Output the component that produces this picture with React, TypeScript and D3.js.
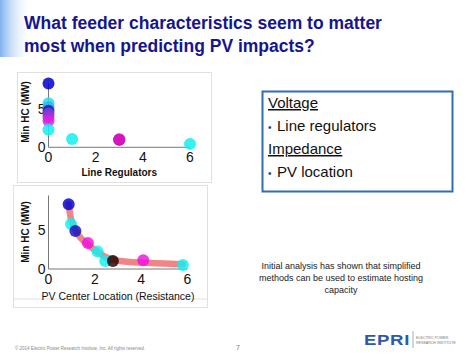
import React from "react";
import * as d3 from "d3";

// Top chart: Min HC vs Line Regulators
const regX = [0, 0, 0, 0, 0, 0, 0, 0, 1, 3, 3, 6];
const regY = [8.4, 5.8, 5.3, 4.8, 4.4, 4.0, 3.5, 2.3, 1.1, 1.0, 1.05, 0.45];
const regColor = ["#0000d0", "#20e0f0", "#40b0e0", "#1020c8", "#8040d0", "#a030d8", "#e020e0", "#10f0f0", "#10f0f0", "#300000", "#f010e0", "#10f0f0"];

// Bottom chart: Min HC vs PV Center Location (Resistance)
const pvX = [0.87, 0.97, 1.16, 1.7, 2.12, 2.45, 2.78, 4.09, 5.8];
const pvY = [8.2, 5.7, 4.8, 3.3, 2.2, 1.0, 1.0, 1.1, 0.5];
const pvColor = ["#0000d0", "#10f0f0", "#1010c0", "#f010e0", "#10f0f0", "#10f0f0", "#200000", "#f010e0", "#10f0f0"];

// Fitted curve
const fitX = [0.87, 0.95, 1.05, 1.2, 1.4, 1.7, 2.0, 2.3, 2.6, 3.0, 3.5, 4.0, 5.0, 5.8];
const fitY = [8.2, 6.6, 5.6, 4.7, 3.9, 3.1, 2.4, 1.8, 1.35, 1.05, 0.9, 0.82, 0.7, 0.6];

const xTicks = [0, 2, 4, 6];
const yTicks = [0, 5];

const titleLines = ["What feeder characteristics seem to matter", "most when predicting PV impacts?"];
const noteLines = ["Initial analysis has shown that simplified", "methods can be used to estimate hosting", "capacity"];

const FONT = "'Liberation Sans', Arial, sans-serif";

function Axes({ x, y, yTop, xLabel, xLabelY, xLabelBold }: any) {
  return (
    <g>
      <line x1={x(0)} x2={x(6)} y1={y(0)} y2={y(0)} stroke="#777" strokeWidth={1} />
      <line x1={x(0)} x2={x(0)} y1={y(0)} y2={y(yTop)} stroke="#777" strokeWidth={1} />
      {xTicks.map((t) => (
        <text key={"x" + t} x={x(t)} y={y(0) + 15} textAnchor="middle" fontSize={14} fontFamily={FONT} fill="#111">
          {t}
        </text>
      ))}
      {yTicks.map((t) => (
        <text key={"y" + t} x={x(0) - 3} y={y(t) + 5} textAnchor="end" fontSize={14} fontFamily={FONT} fill="#111">
          {t}
        </text>
      ))}
      <text x={(x(0) + x(6)) / 2} y={xLabelY} textAnchor="middle" fontSize={xLabelBold ? 10 : 10.5} fontWeight={xLabelBold ? "bold" : "normal"} fontFamily={FONT} fill="#111">
        {xLabel}
      </text>
    </g>
  );
}

export default function App() {
  const W = 474, H = 355;

  const x1 = d3.scaleLinear().domain([0, 6]).range([48.5, 190]);
  const y1 = d3.scaleLinear().domain([0, 5]).range([147.3, 109.3]);
  const x2 = d3.scaleLinear().domain([0, 6]).range([48.5, 187.5]);
  const y2 = d3.scaleLinear().domain([0, 5]).range([269, 229.5]);

  const line = d3.line<number>()
    .x((_, i) => x2(fitX[i]))
    .y((_, i) => y2(fitY[i]))
    .curve(d3.curveMonotoneX);

  return (
    <svg width={W} height={H} style={{ position: "absolute", left: 0, top: 0, background: "#fff" }}>
      <defs>
        <linearGradient id="tg" x1="0" x2="1" y1="0" y2="0">
          <stop offset="0" stopColor="#7fb0f0" />
          <stop offset="1" stopColor="#ffffff" stopOpacity={0} />
        </linearGradient>
      </defs>
      <rect x={0} y={0} width={W} height={H} fill="#fff" />
      <rect x={0} y={0} width={32} height={57} fill="url(#tg)" />
      {titleLines.map((t, i) => (
        <text key={i} x={24} y={29 + i * 23} fontSize={17.5} fontWeight="bold" fontFamily={FONT} fill="#15158f">
          {t}
        </text>
      ))}

      {/* top panel */}
      <rect x={17.5} y={72.5} width={194} height={110} fill="#fff" stroke="#e0e0e0" />
      <text transform={`translate(29,112) rotate(-90)`} textAnchor="middle" fontSize={10} fontWeight="bold" fontFamily={FONT} fill="#111">
        Min HC (MW)
      </text>
      <Axes x={x1} y={y1} yTop={8.4} xLabel="Line Regulators" xLabelY={176} xLabelBold />
      {regX.map((v, i) => (
        <circle key={i} cx={x1(v)} cy={y1(regY[i])} r={6} fill={regColor[i]} fillOpacity={0.85} />
      ))}

      {/* bottom panel */}
      <rect x={13.5} y={185.5} width={194} height={122} fill="#fff" stroke="#e0e0e0" />
      <line x1={13.5} x2={207.5} y1={299} y2={299} stroke="#e0e0e0" />
      <text transform={`translate(29,232) rotate(-90)`} textAnchor="middle" fontSize={10} fontWeight="bold" fontFamily={FONT} fill="#111">
        Min HC (MW)
      </text>
      <Axes x={x2} y={y2} yTop={9.3} xLabel="PV Center Location (Resistance)" xLabelY={300} xLabelBold={false} />
      <path d={line(fitX) || ""} fill="none" stroke="#f07878" strokeWidth={6.5} strokeLinecap="round" strokeOpacity={0.9} />
      {pvX.map((v, i) => (
        <circle key={i} cx={x2(v)} cy={y2(pvY[i])} r={6} fill={pvColor[i]} fillOpacity={0.82} />
      ))}

      {/* right box */}
      <rect x={262.5} y={91.5} width={190} height={100} fill="#fff" stroke="#2e6db4" strokeWidth={2} />
      <text x={268} y={108} fontSize={15} fontFamily={FONT} fill="#111" textDecoration="underline">Voltage</text>
      <text x={268} y={131} fontSize={15} fontFamily={FONT} fill="#111">
        <tspan fill="#1f3fa0" fontSize={10}>•</tspan>
        <tspan x={277}>Line regulators</tspan>
      </text>
      <text x={268} y={154} fontSize={15} fontFamily={FONT} fill="#111" textDecoration="underline">Impedance</text>
      <text x={268} y={177} fontSize={15} fontFamily={FONT} fill="#111">
        <tspan fill="#1f3fa0" fontSize={10}>•</tspan>
        <tspan x={277}>PV location</tspan>
      </text>

      {noteLines.map((t, i) => (
        <text key={i} x={341} y={269 + i * 12} textAnchor="middle" fontSize={9} fontFamily={FONT} fill="#222">
          {t}
        </text>
      ))}

      {/* footer */}
      <text x={15} y={350} fontSize={4.5} fontFamily={FONT} fill="#888">
        © 2014 Electric Power Research Institute, Inc. All rights reserved.
      </text>
      <text x={236} y={350} fontSize={7} fontFamily={FONT} fill="#777">7</text>
      <text x={364} y={345} fontSize={14} fontWeight="bold" fontFamily={FONT} fill="#2c5aa8" letterSpacing={0.5} textLength={46} lengthAdjust="spacingAndGlyphs">
        EPRI
      </text>
      <line x1={413} x2={413} y1={331} y2={348} stroke="#999" strokeWidth={0.8} />
      <text x={416} y={339} fontSize={3.6} fontFamily={FONT} fill="#777">ELECTRIC POWER</text>
      <text x={416} y={344} fontSize={3.6} fontFamily={FONT} fill="#777">RESEARCH INSTITUTE</text>
    </svg>
  );
}
